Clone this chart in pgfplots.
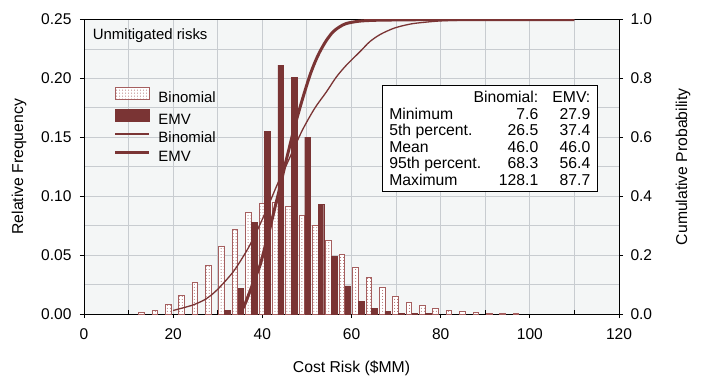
\documentclass[border=0pt]{standalone}
\usepackage{fontspec}
\setmainfont{Liberation Sans}
\usepackage{pgfplots}
\usepackage{pgfplotstable}
\pgfplotsset{compat=1.18}
\usetikzlibrary{patterns}
\definecolor{emv}{RGB}{122,52,52}
\definecolor{binedge}{RGB}{165,95,95}
\definecolor{bgc}{RGB}{244,246,246}
\definecolor{gridc}{RGB}{200,204,208}

\pgfplotstableread{
x f
12.87 0.0012
15.87 0.0032
18.87 0.0080
21.87 0.0157
24.87 0.0269
27.87 0.0413
30.87 0.0578
33.87 0.0718
36.87 0.0863
39.87 0.0940
42.87 0.0951
45.87 0.0911
48.87 0.0836
51.87 0.0752
54.87 0.0626
57.87 0.0505
60.87 0.0393
63.87 0.0308
66.87 0.0223
69.87 0.0152
72.87 0.0099
75.87 0.0073
78.87 0.0048
81.87 0.0031
84.87 0.0020
87.87 0.0014
90.87 0.0008
93.87 0.0006
96.87 0.0006
}\binomtab

\pgfplotstableread{
x f
32.14 0.0033
35.14 0.0218
38.14 0.0778
41.14 0.1551
44.14 0.2114
47.14 0.2009
50.14 0.1503
53.14 0.0931
56.14 0.0489
59.14 0.0239
62.14 0.0109
65.14 0.0048
68.14 0.0022
71.14 0.0008
74.14 0.0005
77.14 0.0003
}\emvtab

\pgfplotstableread{
x c
20.0 0.012
22.0 0.020
24.5 0.031
27.0 0.048
29.0 0.070
31.0 0.100
33.5 0.144
35.5 0.190
37.2 0.234
39.5 0.305
41.7 0.381
43.5 0.445
45.4 0.506
47.3 0.570
49.2 0.631
51.8 0.700
54.4 0.755
56.6 0.805
58.9 0.846
61.9 0.891
64.1 0.925
66.5 0.950
69.4 0.970
72.0 0.981
74.6 0.988
80.6 0.996
90.0 0.999
100.0 1.000
110.0 1.000
}\bincum

\pgfplotstableread{
x c
35.0 0.005
36.0 0.030
37.2 0.076
38.3 0.120
39.5 0.166
40.6 0.228
41.7 0.291
42.8 0.360
43.9 0.427
45.0 0.500
46.2 0.574
47.3 0.640
48.4 0.699
49.5 0.755
50.7 0.812
51.8 0.855
52.9 0.891
54.4 0.930
55.9 0.959
57.4 0.976
58.9 0.987
61.9 0.995
66.0 0.998
72.0 0.999
80.0 1.000
110.0 1.000
}\emvcum

\begin{document}
\begin{tikzpicture}
\begin{axis}[
  name=ax, scale only axis, width=535bp, height=294.4bp,
  xmin=0, xmax=120, ymin=0, ymax=0.25,
  xtick={0,20,40,60,80,100,120}, minor xtick={10,30,50,70,90,110},
  ytick={0,0.05,0.1,0.15,0.2,0.25}, minor ytick={0.025,0.075,0.125,0.175,0.225},
  grid=both,
  major grid style={gridc, line width=0.9bp},
  minor grid style={gridc, line width=0.9bp},
  tick align=outside, major tick length=4bp, minor tick length=4bp,
  xtick pos=bottom, ytick pos=left,
  tick style={black, line width=0.8bp},
  minor x tick style={yshift=4bp},
  minor y tick style={draw=none},
  axis background/.style={fill=bgc},
  axis line style={black, line width=0.8bp},
  ticklabel style={font=\fontsize{15.6}{18}\selectfont},
  xticklabel style={yshift=-7bp},
  yticklabel style={xshift=-5bp},
  /pgf/number format/assume math mode=true,
  yticklabel style={/pgf/number format/fixed, /pgf/number format/fixed zerofill, /pgf/number format/precision=2},
  xlabel={Cost Risk (\$MM)}, ylabel={Relative Frequency},
  every axis x label/.style={at={(axis description cs:0.5,-0.1844)}, anchor=center, font=\fontsize{15.8}{18}\selectfont},
  every axis y label/.style={at={(axis description cs:-0.1215,0.5)}, rotate=90, anchor=center, font=\fontsize{15.8}{18}\selectfont},
  legend cell align=left,
  legend style={draw=none, fill=none, inner sep=0pt, at={(rel axis cs:0.0557,0.771)}, anchor=north west,
    font=\fontsize{15}{18}\selectfont, row sep=4bp,
    nodes={inner sep=0.5bp, text height=11bp, text depth=2.5bp},
    /tikz/every odd column/.append style={column sep=7bp}},
]
\addplot[ybar, bar width=1.27, bar shift=0pt, draw=binedge, line width=0.8bp, fill=white,
  postaction={pattern=dots, pattern color=binedge}, forget plot] table[x=x, y=f] {\binomtab};
\addplot[ybar, bar width=1.27, bar shift=0pt, draw=emv, line width=0.3bp, fill=emv, forget plot] table[x=x, y=f] {\emvtab};

\addlegendimage{legend image code/.code={\draw[draw=binedge, line width=0.8bp, fill=white, postaction={pattern=dots, pattern color=binedge}] (0bp,-1bp) rectangle (34bp,10.5bp);}}
\addlegendentry{Binomial}
\addlegendimage{legend image code/.code={\draw[draw=emv, fill=emv] (0bp,-1.5bp) rectangle (34bp,10.5bp);}}
\addlegendentry{EMV}
\addlegendimage{legend image code/.code={\draw[emv, line width=1.3bp] (0bp,4.5bp) -- (34bp,4.5bp);}}
\addlegendentry{Binomial}
\addlegendimage{legend image code/.code={\draw[emv, line width=3bp] (0bp,4.5bp) -- (34bp,4.5bp);}}
\addlegendentry{EMV}

\node[anchor=west, inner sep=0pt, font=\fontsize{15}{18}\selectfont] at (axis cs:1.95,0.2364) {Unmitigated risks};

\node[draw=black, line width=0.8bp, fill=white, anchor=north west, inner xsep=6.7bp, inner ysep=5.6bp,
  align=left, font=\fontsize{15.8}{16.6}\selectfont] at (axis cs:66.9,0.1944) {%
\makebox[149bp][l]{}\makebox[0pt][r]{Binomial:}\makebox[52bp][r]{EMV:}\\
\makebox[149bp][l]{Minimum}\makebox[0pt][r]{7.6}\makebox[52bp][r]{27.9}\\
\makebox[149bp][l]{5th percent.}\makebox[0pt][r]{26.5}\makebox[52bp][r]{37.4}\\
\makebox[149bp][l]{Mean}\makebox[0pt][r]{46.0}\makebox[52bp][r]{46.0}\\
\makebox[149bp][l]{95th percent.}\makebox[0pt][r]{68.3}\makebox[52bp][r]{56.4}\\
\makebox[149bp][l]{Maximum}\makebox[0pt][r]{128.1}\makebox[52bp][r]{87.7}};

\coordinate (BL) at (rel axis cs:0,0);
\coordinate (TR) at (rel axis cs:1,1);
\end{axis}

\begin{axis}[
  scale only axis, width=535bp, height=294.4bp,
  xmin=0, xmax=120, ymin=0, ymax=1,
  axis x line=none, axis y line*=right,
  ytick={0,0.2,0.4,0.6,0.8,1.0},
  tick align=outside, major tick length=4bp,
  tick style={black, line width=0.8bp},
  axis line style={black, line width=0.8bp},
  ticklabel style={font=\fontsize{15.6}{18}\selectfont},
  yticklabel style={xshift=4bp},
  /pgf/number format/assume math mode=true,
  yticklabel style={/pgf/number format/fixed, /pgf/number format/fixed zerofill, /pgf/number format/precision=1},
  ylabel={Cumulative Probability},
  every axis y label/.style={at={(axis description cs:1.1196,0.5)}, rotate=90, anchor=center, font=\fontsize{15.8}{18}\selectfont},
]
\addplot[emv, line width=1.3bp, smooth, tension=0.5] table[x=x, y=c] {\bincum};
\addplot[emv, line width=3bp, smooth, tension=0.5] table[x=x, y=c] {\emvcum};
\end{axis}

\pgfresetboundingbox
\path[use as bounding box] ([shift={(-84bp,-75bp)}]BL) rectangle ([shift={(82bp,19.6bp)}]TR);
\end{tikzpicture}
\end{document}
